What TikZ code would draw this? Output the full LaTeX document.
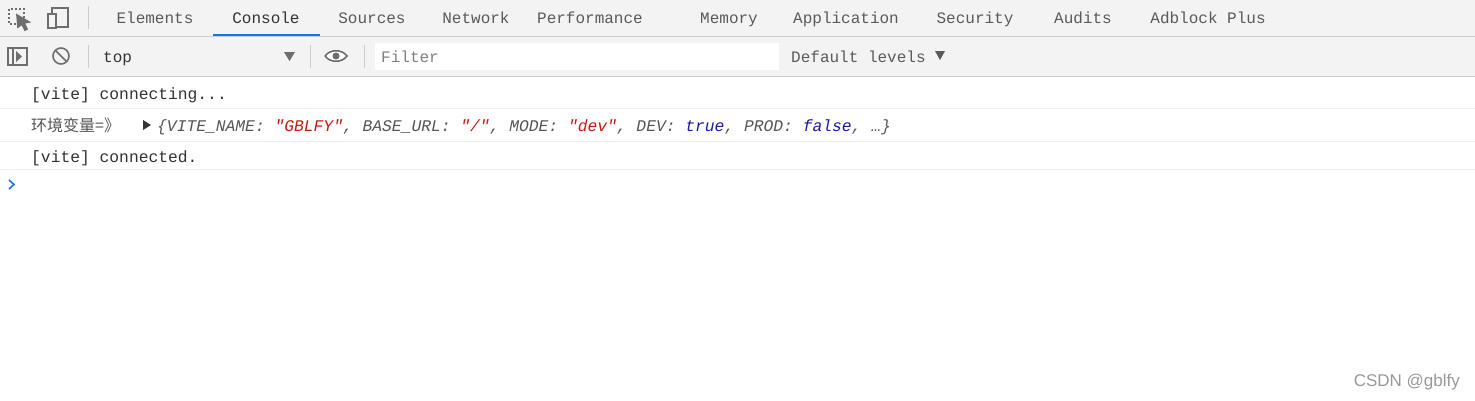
\documentclass[tikz,border=0pt]{standalone}
\usepackage{fontspec}
\setmonofont{Liberation Mono}
\setsansfont{Liberation Sans}
\newfontfamily\cjk{Noto Sans CJK SC}
\usetikzlibrary{calc}
\definecolor{barbg}{HTML}{F3F3F3}
\definecolor{border}{HTML}{CCCCCC}
\definecolor{rowline}{HTML}{F0F0F0}
\definecolor{tabtxt}{HTML}{5A5A5A}
\definecolor{active}{HTML}{333333}
\definecolor{blueline}{HTML}{1A73E8}
\definecolor{strred}{HTML}{C41A16}
\definecolor{kwblue}{HTML}{1A1AA6}
\definecolor{keygray}{HTML}{565656}
\definecolor{icon}{HTML}{6E6E6E}
\tikzset{x=1pt,y=-1pt,
 tab/.style={anchor=base,font=\ttfamily\fontsize{16}{18}\selectfont,text=tabtxt,inner sep=0},
 con/.style={anchor=base west,font=\ttfamily\fontsize{16.3}{18}\selectfont,text=active,inner sep=0},
 sep/.style={draw=border,line width=1pt},
 ico/.style={draw=icon,line width=1.6pt}}
\begin{document}
\begin{tikzpicture}
\useasboundingbox (0,0) rectangle (1475,400);
\fill[white] (0,0) rectangle (1475,400);
\fill[barbg] (0,0) rectangle (1475,76);
\draw[border] (0,36.5) -- (1475,36.5);
\draw[border] (0,76.5) -- (1475,76.5);
% top icons
\draw[ico,dash pattern=on 2pt off 2pt] (9,9) rectangle (24,24);
\draw[ico,fill=icon] (17,15) -- (29,22) -- (24,23) -- (27,29) -- (25,30) -- (22,24) -- (18,27) -- cycle;
\draw[ico] (52,8) rectangle (68,27);
\draw[ico,fill=barbg] (48,14) rectangle (56,28);
\draw[sep] (88,6) -- (88,29);
\node[tab] (t1) at (155,23) {Elements};
\node[tab,text=active] (t2) at (266,23) {Console};
\draw[blueline,line width=2pt] (213,35) -- (320,35);
\node[tab] (t3) at (372,23) {Sources};
\node[tab] (t4) at (476,23) {Network};
\node[tab] (t5) at (590,23) {Performance};
\node[tab] (t6) at (729,23) {Memory};
\node[tab] (t7) at (846,23) {Application};
\node[tab] (t8) at (975,23) {Security};
\node[tab] (t9) at (1083,23) {Audits};
\node[tab] (t10) at (1208,23) {Adblock Plus};
% second bar
\draw[ico] (8,48) rectangle (27,65);
\draw[ico] (13,48) -- (13,65);
\fill[icon] (16,51) -- (22,56.5) -- (16,62) -- cycle;
\draw[ico] (61,56) circle (8);
\draw[ico] (55.5,50.5) -- (66.5,61.5);
\draw[sep] (88,45) -- (88,68);
\node[tab,anchor=base west,text=active] (top) at (103,62) {top};
\fill[icon] (284,52) -- (295,52) -- (289.5,61) -- cycle;
\draw[sep] (310,45) -- (310,68);
\draw[ico,fill=white] (325,56) .. controls (330,49) and (342,49) .. (347,56) .. controls (342,63) and (330,63) .. (325,56);
\fill[icon] (336,56) circle (3.5);
\draw[sep] (364,45) -- (364,68);
\fill[white] (375,43) rectangle (779,70);
\node[tab,anchor=base west,text=gray] (flt) at (381,62) {Filter};
\node[tab,anchor=base west] (lvl) at (791,62) {Default levels};
\fill[tabtxt] (935,51) -- (945,51) -- (940,60) -- cycle;
% console rows
\node[con] (l1) at (31,99) {[vite] connecting...};
\draw[rowline] (0,108.5) -- (1475,108.5);
\node[con,text=keygray,font=\cjk\fontsize{16}{18}\selectfont] (l2a) at (31,131) {环境变量=》};
\fill[active] (143,120) -- (151,125) -- (143,130) -- cycle;
\node[con,font=\ttfamily\itshape\fontsize{16.3}{18}\selectfont,text=keygray] (l2b) at (157,131)
 {\{VITE\_NAME: \textcolor{strred}{"GBLFY"}, BASE\_URL: \textcolor{strred}{"/"}, MODE: \textcolor{strred}{"dev"}, DEV: \textcolor{kwblue}{true}, PROD: \textcolor{kwblue}{false}, …\}};
\draw[rowline] (0,141.5) -- (1475,141.5);
\node[con] (l3) at (31,162) {[vite] connected.};
\draw[rowline] (0,169.5) -- (1475,169.5);
\draw[blueline,line width=1.6pt] (9,180) -- (14,184.5) -- (9,189);
\node[anchor=base east,font=\sffamily\fontsize{17}{20}\selectfont,text=gray!80,inner sep=0] (wm) at (1460,386) {CSDN @gblfy};
\end{tikzpicture}
\end{document}
